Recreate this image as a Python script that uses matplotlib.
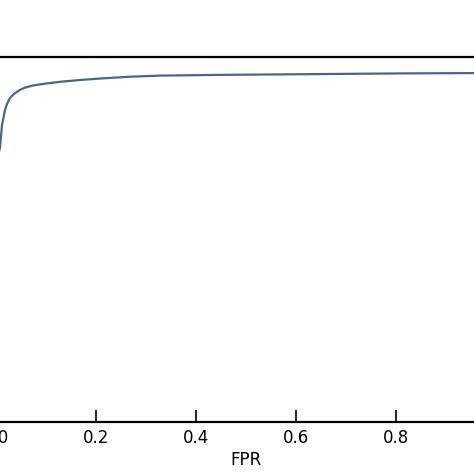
import matplotlib
matplotlib.use("Agg")
import matplotlib.pyplot as plt

# ROC curve values
fpr = [0.0, 0.0, 0.008, 0.012, 0.018, 0.022, 0.028, 0.036, 0.048, 0.058, 0.074,
       0.098, 0.128, 0.168, 0.208, 0.268, 0.328, 0.448, 0.628, 0.808, 0.956, 1.0]
tpr = [0.0, 0.70, 0.753, 0.814, 0.855, 0.871, 0.888, 0.899, 0.910, 0.916, 0.922,
       0.927, 0.932, 0.937, 0.941, 0.946, 0.949, 0.951, 0.953, 0.955, 0.956, 0.957]
xticks = [0.0, 0.2, 0.4, 0.6, 0.8, 1.0]

fig = plt.figure(figsize=(4.74, 4.74), dpi=100)
# the original is a crop: the axes run past the left and right edges
ax = fig.add_axes([-4 / 474, 52 / 474, 500 / 474, 365 / 474])

ax.plot(fpr, tpr, color="#4d6489", linewidth=1.6, solid_joinstyle="round")

ax.set_xlim(0, 1)
ax.set_ylim(0, 1)
ax.set_xticks(xticks)
ax.set_xticklabels([f"{t:.1f}" for t in xticks], fontsize=12)
ax.set_yticks([])
ax.tick_params(axis="x", direction="in", length=9, width=1.2, pad=5)
ax.set_xlabel("FPR", fontsize=12, labelpad=3)

for side in ["top", "bottom"]:
    ax.spines[side].set_linewidth(1.6)

fig.savefig("out.png", dpi=100)
